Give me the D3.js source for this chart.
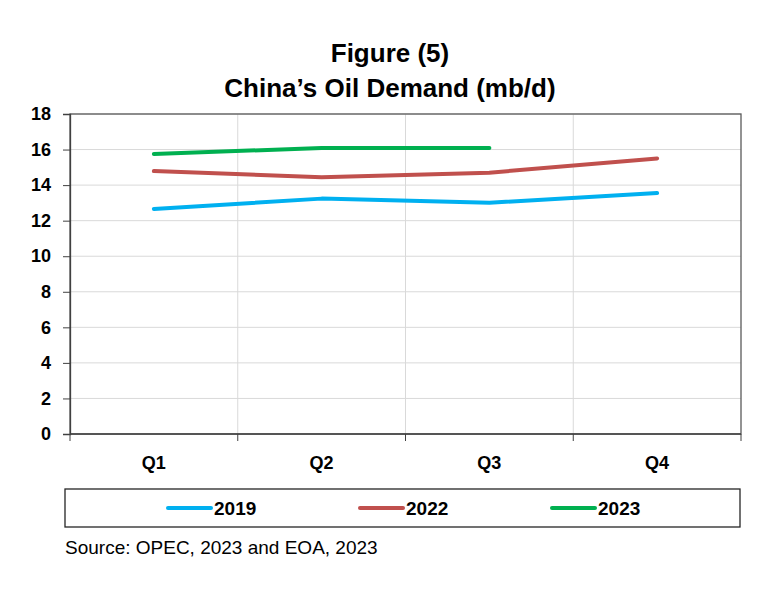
<!DOCTYPE html>
<html>
<head>
<meta charset="utf-8">
<script src="https://cdn.jsdelivr.net/npm/d3@7"></script>
<style>
  body { margin: 0; background: #fff; }
  svg text { font-family: "Liberation Sans", Arial, sans-serif; }
</style>
</head>
<body>
<div id="chart"></div>
<script>
const quarters = ['Q1', 'Q2', 'Q3', 'Q4'];
const years = ['2019', '2022', '2023'];
const demand2019 = [12.66, 13.24, 13.01, 13.55];
const demand2022 = [14.79, 14.44, 14.70, 15.50];
const demand2023 = [15.75, 16.09, 16.09];
const yTicks = [0, 2, 4, 6, 8, 10, 12, 14, 16, 18];
const lineColors = ['#00B0F0', '#C0504D', '#00B050'];

const width = 767, height = 593;
const plot = { left: 70, right: 741, top: 114, bottom: 434 };

const svg = d3.select('#chart').append('svg')
    .attr('width', width)
    .attr('height', height);

// titles
svg.append('text')
    .attr('x', 390).attr('y', 62)
    .attr('text-anchor', 'middle')
    .style('font-size', '26px').style('font-weight', 'bold')
    .text('Figure (5)');
svg.append('text')
    .attr('x', 390).attr('y', 97)
    .attr('text-anchor', 'middle')
    .style('font-size', '26px').style('font-weight', 'bold')
    .text('China\u2019s Oil Demand (mb/d)');

const x = d3.scaleBand()
    .domain(quarters)
    .range([plot.left, plot.right]);

const y = d3.scaleLinear()
    .domain([0, 18])
    .range([plot.bottom, plot.top]);

// gridlines
svg.append('g')
    .selectAll('line')
    .data(yTicks.slice(1))
    .join('line')
    .attr('x1', plot.left).attr('x2', plot.right)
    .attr('y1', d => y(d)).attr('y2', d => y(d))
    .attr('stroke', '#d9d9d9');

svg.append('g')
    .selectAll('line')
    .data(quarters.slice(1))
    .join('line')
    .attr('x1', d => x(d)).attr('x2', d => x(d))
    .attr('y1', plot.top).attr('y2', plot.bottom)
    .attr('stroke', '#d9d9d9');

// plot border
svg.append('rect')
    .attr('x', plot.left).attr('y', plot.top)
    .attr('width', plot.right - plot.left)
    .attr('height', plot.bottom - plot.top)
    .attr('fill', 'none')
    .attr('stroke', '#595959')
    .attr('stroke-width', 1.3);

// y axis
const yAxis = svg.append('g')
    .attr('transform', `translate(${plot.left},0)`)
    .call(d3.axisLeft(y).tickValues(yTicks).tickSize(7).tickPadding(12));
yAxis.select('.domain').attr('stroke', '#404040').attr('stroke-width', 1.3);
yAxis.selectAll('.tick line').attr('stroke', '#404040');
yAxis.selectAll('text')
    .style('font-size', '18px').style('font-weight', 'bold')
    .attr('fill', '#000');

// x axis: ticks at band edges
const xAxis = svg.append('g')
    .attr('transform', `translate(0,${plot.bottom})`);
xAxis.append('line')
    .attr('x1', plot.left).attr('x2', plot.right)
    .attr('stroke', '#404040').attr('stroke-width', 1.3);
xAxis.selectAll('.edge')
    .data(quarters.concat(['end']))
    .join('line')
    .attr('class', 'edge')
    .attr('x1', (d, i) => i < quarters.length ? x(d) : plot.right)
    .attr('x2', (d, i) => i < quarters.length ? x(d) : plot.right)
    .attr('y1', 0).attr('y2', 7)
    .attr('stroke', '#404040');
xAxis.selectAll('text')
    .data(quarters)
    .join('text')
    .attr('x', d => x(d) + x.bandwidth() / 2)
    .attr('y', 35)
    .attr('text-anchor', 'middle')
    .style('font-size', '18px').style('font-weight', 'bold')
    .text(d => d);

// lines
const series = [demand2019, demand2022, demand2023];
const line = d3.line()
    .x((d, i) => x(quarters[i]) + x.bandwidth() / 2)
    .y(d => y(d));

svg.append('g')
    .selectAll('path')
    .data(series)
    .join('path')
    .attr('d', line)
    .attr('fill', 'none')
    .attr('stroke', (d, i) => lineColors[i])
    .attr('stroke-width', 4)
    .attr('stroke-linecap', 'round')
    .attr('stroke-linejoin', 'round');

// legend
svg.append('rect')
    .attr('x', 65).attr('y', 489)
    .attr('width', 675).attr('height', 38)
    .attr('fill', 'none')
    .attr('stroke', '#262626')
    .attr('stroke-width', 1.3);

const legendX = [168, 360, 552];
const legend = svg.append('g')
    .selectAll('g')
    .data(years)
    .join('g')
    .attr('transform', (d, i) => `translate(${legendX[i]},508)`);
legend.append('line')
    .attr('x1', 0).attr('x2', 43)
    .attr('stroke', (d, i) => lineColors[i])
    .attr('stroke-width', 4)
    .attr('stroke-linecap', 'round');
legend.append('text')
    .attr('x', 46).attr('y', 7)
    .style('font-size', '19px').style('font-weight', 'bold')
    .text(d => d);

// source
svg.append('text')
    .attr('x', 65).attr('y', 554)
    .style('font-size', '19px')
    .text('Source: OPEC, 2023 and EOA, 2023');
</script>
</body>
</html>
